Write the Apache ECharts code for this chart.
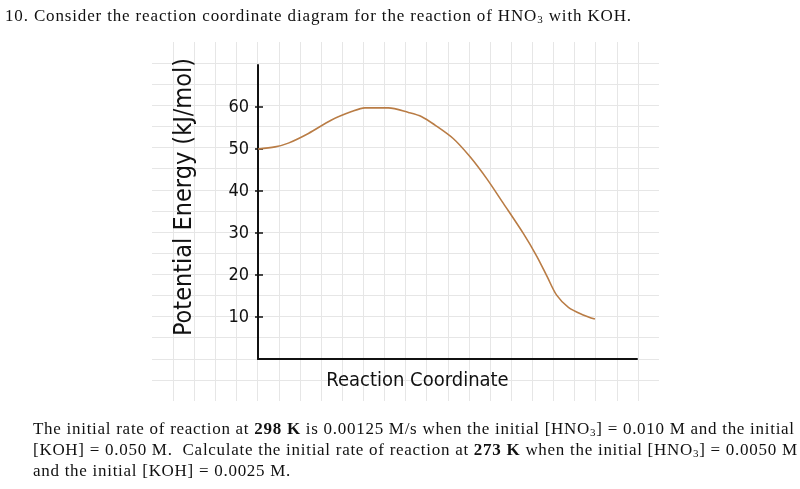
<!DOCTYPE html>
<html>
<head>
<meta charset="utf-8">
<script src="https://cdn.jsdelivr.net/npm/echarts@6/dist/echarts.min.js"></script>
<style>
  html, body { margin: 0; padding: 0; background: #fff; }
  #wrap { position: relative; width: 800px; height: 489px; overflow: hidden; }
  #chart { position: absolute; left: 0; top: 0; width: 800px; height: 489px; }
  .q { position: absolute; font-family: "Liberation Serif", serif; font-size: 17px; color: #111; white-space: nowrap; line-height: 21px; letter-spacing: 0.72px; }
  #title { left: 5px; top: 5px; letter-spacing: 0.85px; }
  #text { left: 33px; top: 418px; }
  sub { font-size: 11px; vertical-align: -2px; line-height: 0; }
</style>
</head>
<body>
<div id="wrap">
  <div id="chart"></div>
  <div id="title" class="q">10. Consider the reaction coordinate diagram for the reaction of HNO<sub>3</sub> with KOH.</div>
  <div id="text" class="q">The initial rate of reaction at <b>298 K</b> is 0.00125 M/s when the initial [HNO<sub>3</sub>] = 0.010 M and the initial<br>[KOH] = 0.050 M.&nbsp; Calculate the initial rate of reaction at <b>273 K</b> when the initial [HNO<sub>3</sub>] = 0.0050 M<br>and the initial [KOH] = 0.0025 M.</div>
</div>
<script>
// reaction coordinate (0-100) and potential energy (kJ/mol)
const coord = [0, 4.5, 8, 13.3, 19.4, 24.7, 28.2, 34.4, 39.7, 43.2, 46.7, 51.5, 55.9, 60.3, 64.7, 70, 73.6, 76.3, 78.8, 81.9, 85.8, 88.9];
const energy = [50, 50.5, 51.4, 53.7, 56.9, 58.9, 59.8, 59.8, 58.7, 57.7, 55.7, 52.5, 48.2, 43.0, 37.1, 29.9, 24.4, 19.6, 15.2, 12.3, 10.5, 9.5];
const yTicks = [10, 20, 30, 40, 50, 60];

const chart = echarts.init(document.getElementById('chart'));

const handFont = '"DejaVu Sans Condensed", "Liberation Sans", sans-serif';

const option = {
  animation: false,
  grid: [
    { left: 258, right: 163, top: 65, bottom: 130 },
    // squared paper behind the sketch
    { left: 152, right: 141, top: 42, bottom: 88 }
  ],
  xAxis: [
    {
      gridIndex: 0, type: 'value', min: 0, max: 100,
      axisLine: { show: true, lineStyle: { color: '#111', width: 2 } },
      axisTick: { show: false }, axisLabel: { show: false }, splitLine: { show: false },
      name: 'Reaction Coordinate', nameLocation: 'middle', nameGap: 12,
      nameTextStyle: { fontFamily: handFont, fontSize: 20, color: '#111', padding: [0, 60, 0, 0] }
    },
    {
      gridIndex: 1, type: 'value', min: 0, max: 24, interval: 1, z: 0,
      axisLine: { show: false }, axisTick: { show: false }, axisLabel: { show: false },
      splitLine: { show: true, showMinLine: false, showMaxLine: false, lineStyle: { color: '#e6e6e6', width: 1 } }
    }
  ],
  yAxis: [
    {
      gridIndex: 0, type: 'value', min: 0, max: 70, interval: 10,
      axisLine: { show: true, lineStyle: { color: '#111', width: 2 } },
      axisTick: { show: true, length: 3, customValues: yTicks, lineStyle: { color: '#111', width: 1.5 } },
      axisLabel: { customValues: yTicks, margin: 9, fontFamily: handFont, fontSize: 18, color: '#111' },
      splitLine: { show: false },
      name: 'Potential Energy (kJ/mol)', nameLocation: 'middle', nameGap: 61, nameRotate: 90,
      nameTextStyle: { fontFamily: handFont, fontSize: 25, color: '#111', padding: [0, 0, 0, 30] }
    },
    {
      // inner half of the crossing tick marks
      gridIndex: 0, type: 'value', min: 0, max: 70, interval: 10, position: 'left',
      axisLine: { show: false },
      axisTick: { show: true, inside: true, length: 5, customValues: yTicks, lineStyle: { color: '#111', width: 1.5 } },
      axisLabel: { show: false }, splitLine: { show: false }
    },
    {
      gridIndex: 1, type: 'value', min: 0, max: 17, interval: 1, z: 0,
      axisLine: { show: false }, axisTick: { show: false }, axisLabel: { show: false },
      splitLine: { show: true, showMinLine: false, showMaxLine: false, lineStyle: { color: '#e6e6e6', width: 1 } }
    }
  ],
  series: [
    {
      type: 'line',
      xAxisIndex: 0, yAxisIndex: 0,
      data: coord.map((c, i) => [c, energy[i]]),
      smooth: 0.3,
      showSymbol: false,
      lineStyle: { color: '#b97c45', width: 1.6 },
      z: 5
    }
  ]
};

chart.setOption(option);
</script>
</body>
</html>
